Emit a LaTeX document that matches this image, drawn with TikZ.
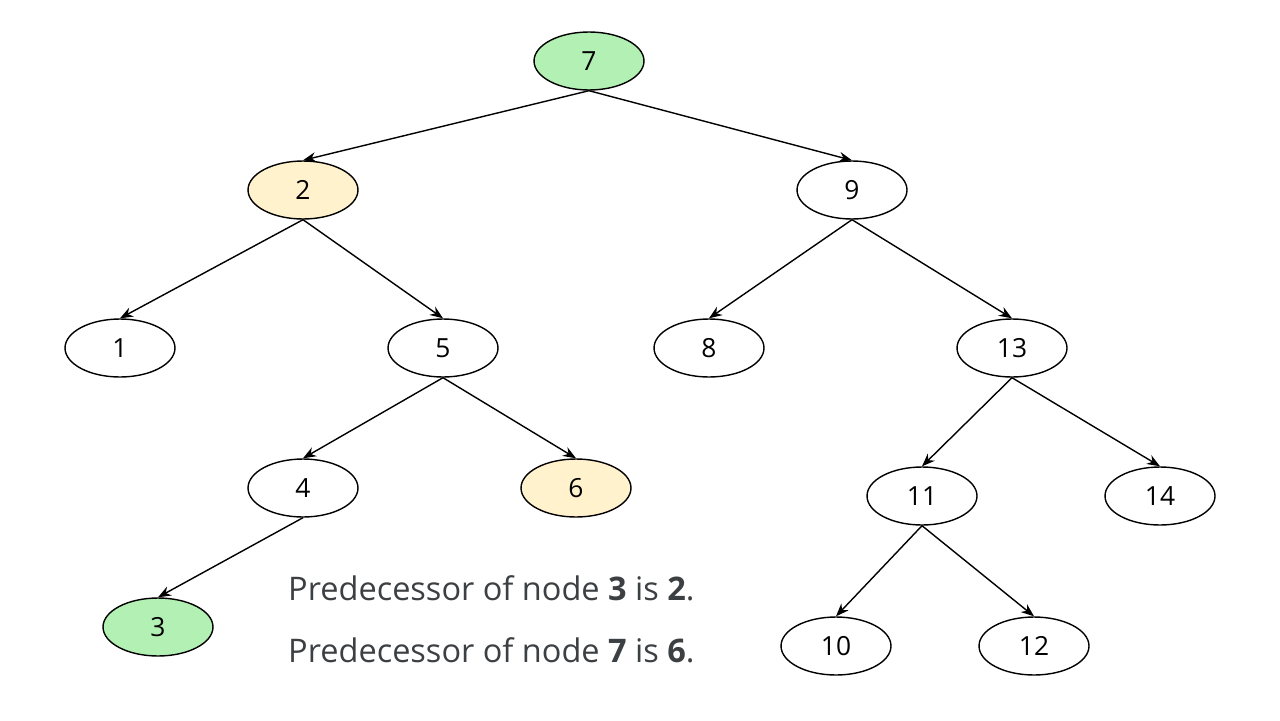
\documentclass[tikz,border=0pt]{standalone}
\usepackage{fontspec}
\setmainfont{Open Sans}
\usetikzlibrary{shapes.geometric,arrows.meta}
\definecolor{colorHit}{HTML}{B3F0B3}
\definecolor{colorPre}{HTML}{FFF2CC}
\definecolor{colorTxt}{HTML}{3C4043}
\tikzset{
   every path/.style={>={Stealth[length=2.6mm,width=2mm]}},
   key/.style={ellipse,draw,thick,minimum width=2.2cm,minimum height=1.16cm,inner sep=0pt,font=\fontsize{15}{18}\selectfont},
   hit/.style={key,fill=colorHit},
   pre/.style={key,fill=colorPre},
   edge/.style={->,line width=0.8pt},
   note/.style={anchor=west,text=colorTxt,font=\fontsize{18.5}{22}\selectfont},
}
\begin{document}
\begin{tikzpicture}[x=0.02cm,y=-0.02cm]
    \useasboundingbox (0,0) rectangle (1280,720);

      \node[hit] (n7) at (589,61) {7};
      \node[pre] (n2) at (303,190) {2};
      \node[key] (n9) at (852,190) {9};
      \node[key] (n1) at (120,348) {1};
      \node[key] (n5) at (443,348) {5};
      \node[key] (n8) at (709,348) {8};
      \node[key] (n13) at (1012,348) {13};
      \node[key] (n4) at (303,488) {4};
      \node[pre] (n6) at (576,488) {6};
      \node[key] (n11) at (922,496) {11};
      \node[key] (n14) at (1160,496) {14};
      \node[hit] (n3) at (158,627) {3};
      \node[key] (n10) at (836,646) {10};
      \node[key] (n12) at (1034,646) {12};

      \foreach \a/\b in {7/2,7/9,2/1,2/5,9/8,9/13,5/4,5/6,13/11,13/14,4/3,11/10,11/12}
        \draw[edge] (n\a.south) -- (n\b.north);

      \node[note] (q1) at (282,588) {Predecessor of node \textbf{3} is \textbf{2}.};
      \node[note] (q2) at (282,650) {Predecessor of node \textbf{7} is \textbf{6}.};
    \end{tikzpicture}
\end{document}
